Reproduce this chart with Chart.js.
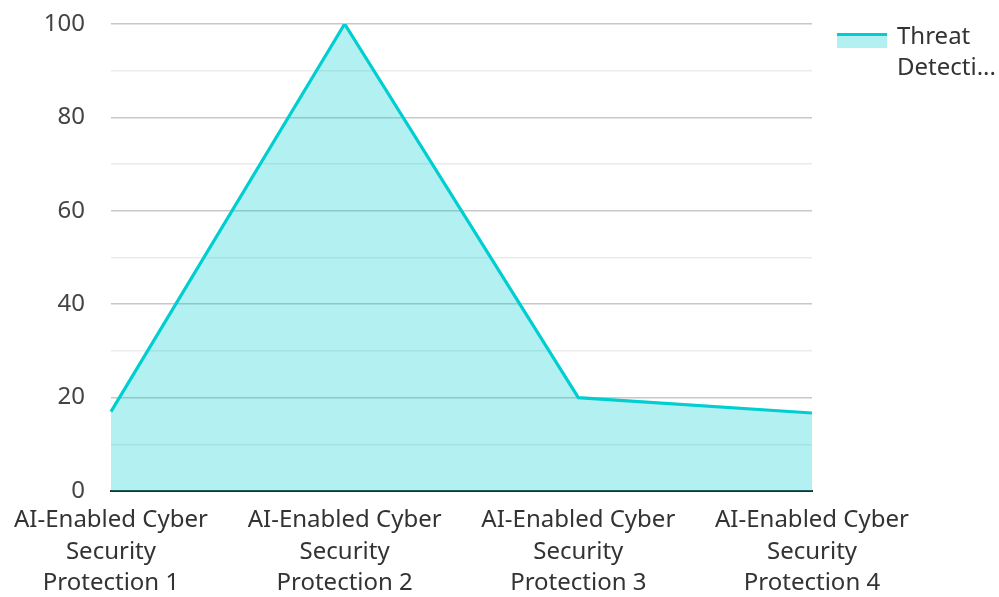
<!DOCTYPE html>
<html>
<head>
<meta charset="utf-8">
<script src="https://cdn.jsdelivr.net/npm/chart.js@4"></script>
<style>
  html, body { margin: 0; padding: 0; background: #fff; }
  #wrap { position: relative; width: 999px; height: 597px; }
  #legend { position: absolute; left: 837px; top: 19px; font-family: "Noto Sans", sans-serif; font-size: 24px; color: #333; line-height: 31px; }
  #legend .box { position: absolute; left: 0; top: 14px; width: 50px; height: 12px; background: rgba(0,206,209,0.3); border-top: 3px solid #00CED1; }
  #legend .txt { position: absolute; left: 60px; top: 0; width: 130px; white-space: nowrap; }
</style>
</head>
<body>
<div id="wrap">
  <canvas id="c" width="999" height="597"></canvas>
  <div id="legend"><div class="box"></div><div class="txt">Threat<br>Detecti...</div></div>
</div>
<script>
const categories = [
  ["AI-Enabled Cyber", "Security", "Protection 1"],
  ["AI-Enabled Cyber", "Security", "Protection 2"],
  ["AI-Enabled Cyber", "Security", "Protection 3"],
  ["AI-Enabled Cyber", "Security", "Protection 4"]
];
const seriesName = "Threat Detection";
const threatDetection = [17, 100, 20, 16.7];
const yLabelValues = [0, 20, 40, 60, 80, 100];

new Chart(document.getElementById('c'), {
  type: 'line',
  data: {
    labels: categories,
    datasets: [{
      label: seriesName,
      data: threatDetection,
      borderColor: '#00CED1',
      backgroundColor: 'rgba(0,206,209,0.3)',
      borderWidth: 3.2,
      fill: 'origin',
      pointRadius: 0,
      tension: 0
    }]
  },
  options: {
    responsive: false,
    animation: false,
    layout: { padding: { top: 24, right: 187, left: 0, bottom: 0 } },
    plugins: { legend: { display: false }, tooltip: { enabled: false } },
    scales: {
      x: {
        offset: false,
        afterFit: (s) => { s.height = 106; },
        grid: { display: false, drawTicks: false },
        border: { display: true, color: '#2a2a2a', width: 2 },
        ticks: {
          color: '#333',
          padding: 14,
          maxRotation: 0,
          autoSkip: false,
          font: { family: 'Noto Sans', size: 24, lineHeight: 1.3 }
        }
      },
      y: {
        min: 0, max: 100,
        afterFit: (s) => { s.width = 110; },
        border: { display: false },
        grid: {
          drawTicks: true,
          tickLength: 26,
          tickColor: 'rgba(0,0,0,0)',
          color: (ctx) => (yLabelValues.includes(ctx.tick.value) ? '#c8c8c8' : '#ebebeb'),
          lineWidth: 1.5
        },
        ticks: {
          stepSize: 10,
          padding: 0,
          color: '#444',
          font: { family: 'Noto Sans', size: 24 },
          callback: (v) => (yLabelValues.includes(v) ? String(v) : '')
        }
      }
    }
  }
});
</script>
</body>
</html>
